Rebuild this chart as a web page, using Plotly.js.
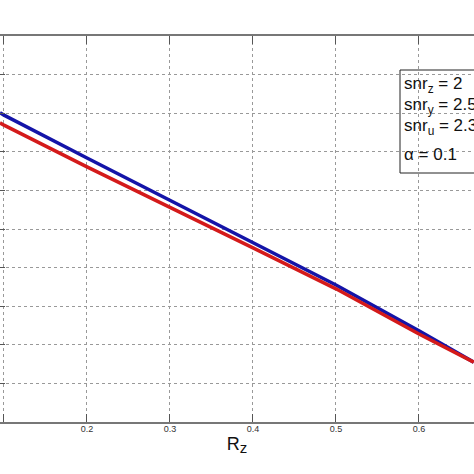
<!DOCTYPE html>
<html>
<head>
<meta charset="utf-8">
<script src="https://cdn.plot.ly/plotly-3.0.1.min.js"></script>
<style>
  html, body { margin: 0; padding: 0; background: #fff; }
  #myDiv { width: 474px; height: 474px; }
</style>
</head>
<body>
<div id="myDiv"></div>
<script>
// values (y axis labels are cropped out, scale 0..1 assumed)
var rz = [0.0952, 0.1, 0.2, 0.3, 0.4, 0.5, 0.6, 0.666];
var blue_vals = [0.801, 0.795, 0.684, 0.575, 0.466, 0.355, 0.236, 0.155];
var red_vals = [0.775, 0.769, 0.661, 0.557, 0.451, 0.345, 0.228, 0.155];

var x_ticks = [0.1, 0.2, 0.3, 0.4, 0.5, 0.6];
var x_ticklabels = ['0.1', '0.2', '0.3', '0.4', '0.5', '0.6'];

var legend_lines = [
  'snr<sub>z</sub> = 2',
  'snr<sub>y</sub> = 2.5',
  'snr<sub>u</sub> = 2.3',
  '\u03b1 = 0.1'
];
var legend_ypix = [85, 106, 127, 154];

// pixel -> paper helpers (plot area runs from y=36 to y=422)
function py(p) { return (422 - p) / 386; }
function px(p) { return p / 474; }

var blue = {
  x: rz,
  y: blue_vals,
  type: 'scatter',
  mode: 'lines',
  line: {color: '#1414a8', width: 3.5},
  name: 'blue'
};

var red = {
  x: rz,
  y: red_vals,
  type: 'scatter',
  mode: 'lines',
  line: {color: '#d41a1a', width: 3.5},
  name: 'red'
};

var annotations = legend_lines.map(function(txt, i) {
  return {
    xref: 'paper',
    yref: 'paper',
    x: px(402),
    y: py(legend_ypix[i]),
    xanchor: 'left',
    yanchor: 'middle',
    align: 'left',
    showarrow: false,
    text: txt,
    font: {size: 17, color: '#111'}
  };
});

var data = [blue, red];
var layout = {
  width: 474,
  height: 474,
  margin: {l: 0, r: 0, t: 36, b: 52},
  paper_bgcolor: '#fff',
  plot_bgcolor: '#fff',
  showlegend: false,
  font: {family: 'Liberation Sans, Arial, sans-serif', color: '#222'},
  xaxis: {
    range: [0.0952, 0.6663],
    tickvals: x_ticks,
    ticktext: x_ticklabels,
    ticks: 'inside',
    ticklen: 8,
    tickcolor: '#555',
    tickfont: {size: 9, color: '#333'},
    ticklabelstandoff: -3,
    showline: true,
    linecolor: '#777',
    linewidth: 1.5,
    mirror: 'ticks',
    showgrid: true,
    gridcolor: '#999',
    griddash: 'dot',
    zeroline: false,
    title: {text: 'R<sub><span style="font-size:15px">z</span></sub>', font: {size: 18, color: '#111'}, standoff: 0}
  },
  yaxis: {
    range: [0, 1],
    dtick: 0.1,
    showticklabels: false,
    ticks: 'inside',
    ticklen: 5,
    tickcolor: '#555',
    showline: false,
    showgrid: true,
    gridcolor: '#999',
    griddash: 'dot',
    zeroline: false
  },
  shapes: [{
    type: 'rect',
    xref: 'paper',
    yref: 'paper',
    x0: px(400),
    x1: 1.05,
    y0: py(173),
    y1: py(70),
    line: {color: '#222', width: 1}
  }],
  annotations: annotations
};
Plotly.newPlot('myDiv', data, layout, {displayModeBar: false});
</script>
</body>
</html>
